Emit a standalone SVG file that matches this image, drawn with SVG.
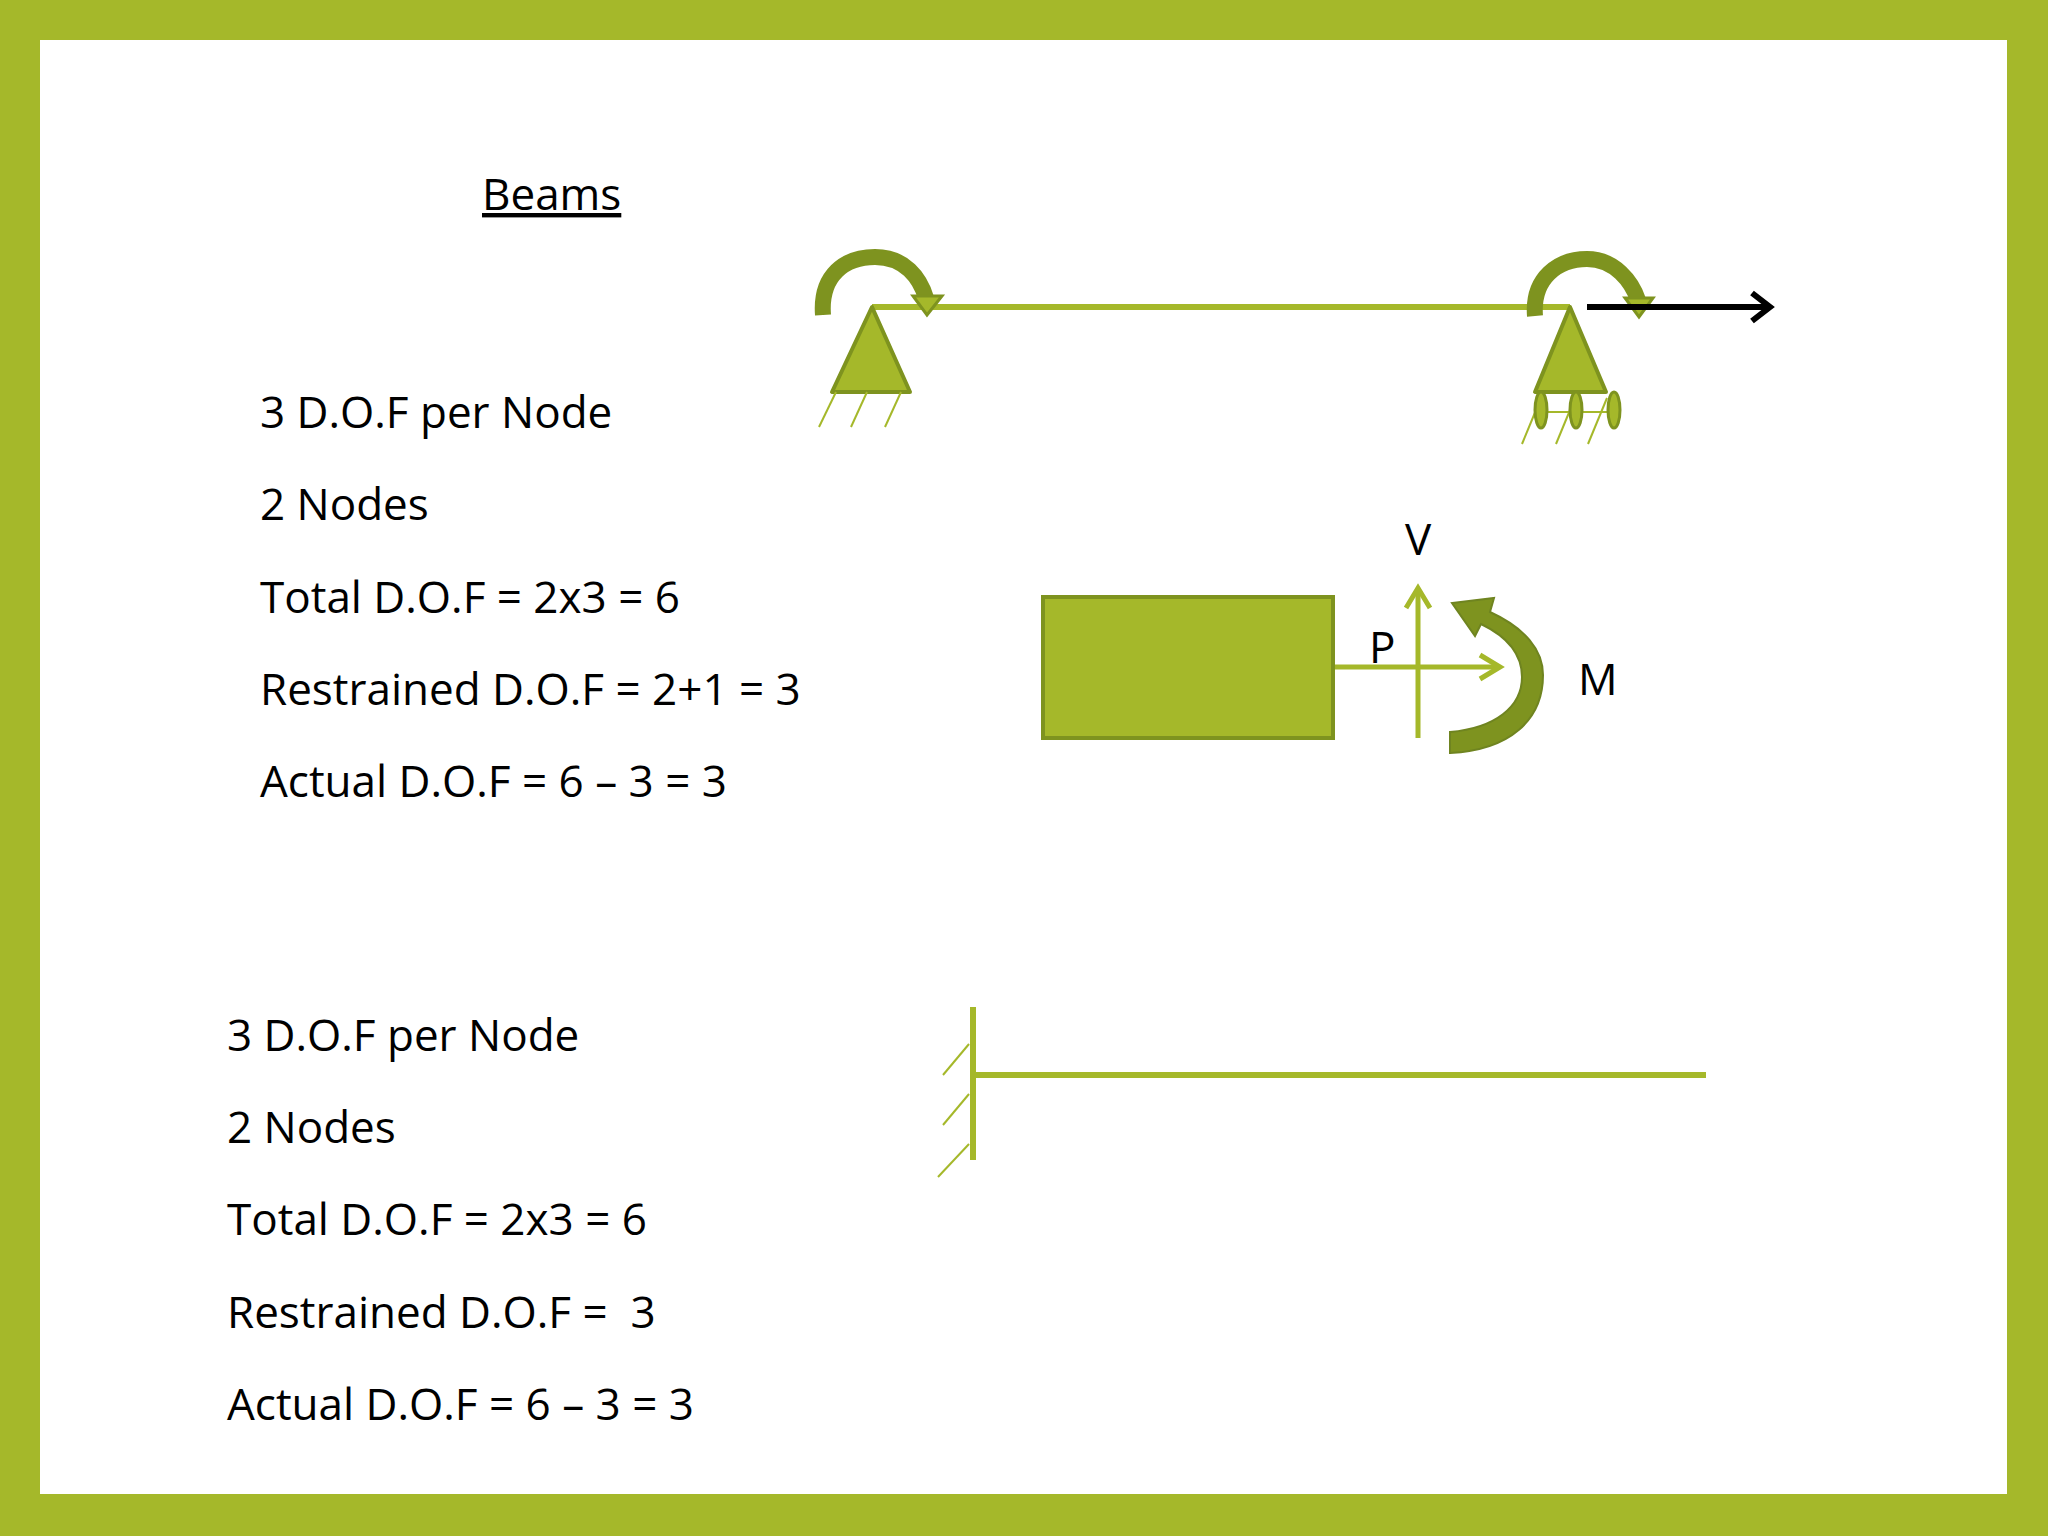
<svg xmlns="http://www.w3.org/2000/svg" width="2048" height="1536" viewBox="0 0 2048 1536">
<style>
text{font-family:"Open Sans","Liberation Sans",sans-serif;font-size:44px;fill:#000;white-space:pre}
.g{stroke:#a5b82a;fill:none}
.tri{fill:#a5b82a;stroke:#7e931f;stroke-width:4;stroke-linejoin:round}
.h{stroke:#a5b82a;stroke-width:2}
.mom{fill:none;stroke:#7e931f;stroke-width:16}
.head{fill:#a5b82a;stroke:#7e931f;stroke-width:3}
</style>
<rect x="0" y="0" width="2048" height="1536" fill="#a5b82a"/>
<rect x="40" y="40" width="1967" height="1454" fill="#fff"/>
<text x="482" y="210" text-decoration="underline">Beams</text>
<g id="text1">
<text x="260" y="428">3 D.O.F per Node</text>
<text x="260" y="520">2 Nodes</text>
<text x="260" y="613">Total D.O.F = 2x3 = 6</text>
<text x="260" y="705">Restrained D.O.F = 2+1 = 3</text>
<text x="260" y="797">Actual D.O.F = 6 – 3 = 3</text>
</g>
<g id="text2">
<text x="227" y="1051">3 D.O.F per Node</text>
<text x="227" y="1143">2 Nodes</text>
<text x="227" y="1235">Total D.O.F = 2x3 = 6</text>
<text x="227" y="1328" xml:space="preserve">Restrained D.O.F =  3</text>
<text x="227" y="1420">Actual D.O.F = 6 – 3 = 3</text>
</g>
<g id="beam1">
<line class="g" x1="872" y1="307" x2="1570" y2="307" stroke-width="6"/>
</g>
<g id="support-left">
<polygon class="tri" points="872,307 832,392 910,392"/>
<line class="h" x1="836" y1="392" x2="819" y2="427"/>
<line class="h" x1="867" y1="392" x2="851" y2="427"/>
<line class="h" x1="901" y1="392" x2="885" y2="427"/>
</g>
<g id="support-right">
<line class="h" x1="1535" y1="412" x2="1614" y2="412"/>
<line class="h" x1="1541" y1="398" x2="1522" y2="444"/>
<line class="h" x1="1575" y1="398" x2="1556" y2="444"/>
<line class="h" x1="1607" y1="398" x2="1588" y2="444"/>
<polygon class="tri" points="1570,307 1535,392 1606,392"/>
<ellipse class="head" cx="1541" cy="410" rx="6" ry="18"/>
<ellipse class="head" cx="1576" cy="410" rx="6" ry="18"/>
<ellipse class="head" cx="1614" cy="410" rx="6" ry="18"/>
</g>
<g id="moment-left">
<path class="mom" d="M823,315 C820,275 845,257 875,257 C905,257 920,278 926,298"/>
<polygon class="head" points="913,296 942,296 927,315"/>
</g>
<g id="moment-right">
<path class="mom" d="M1535,316 C1532,278 1558,259 1587,259 C1615,259 1632,282 1638,300"/>
<polygon class="head" points="1625,298 1653,298 1639,317"/>
</g>
<g id="connectors">
<line x1="1587" y1="307" x2="1766" y2="307" stroke="#000" stroke-width="6"/>
<polyline points="1752,293 1770,307 1752,321" fill="none" stroke="#000" stroke-width="6"/>
<line class="g" x1="1333" y1="667" x2="1498" y2="667" stroke-width="5"/>
<polyline class="g" points="1480,655 1500,667 1480,679" stroke-width="5"/>
<line class="g" x1="1418" y1="738" x2="1418" y2="588" stroke-width="5"/>
<polyline class="g" points="1406,608 1418,588 1430,608" stroke-width="5"/>
</g>
<g id="element">
<rect x="1043" y="597" width="290" height="141" fill="#a5b82a" stroke="#7e931f" stroke-width="4"/>
</g>
<g id="moment-M">
<path d="M1450,753 C1510,750 1543,720 1543,675 C1543,650 1525,628 1490,612 L1494,598 L1452,603 L1475,636 L1481,624 C1508,637 1522,655 1522,677 C1522,707 1495,728 1450,732 Z" fill="#7e931f" stroke="#6f8420" stroke-width="2"/>
</g>
<text x="1405" y="555">V</text>
<text x="1369" y="663">P</text>
<text x="1578" y="695">M</text>
<g id="cantilever">
<line class="g" x1="973" y1="1007" x2="973" y2="1160" stroke-width="6"/>
<line class="g" x1="973" y1="1075" x2="1706" y2="1075" stroke-width="6"/>
<line class="h" x1="969" y1="1044" x2="943" y2="1075"/>
<line class="h" x1="969" y1="1094" x2="943" y2="1125"/>
<line class="h" x1="969" y1="1144" x2="938" y2="1177"/>
</g>
</svg>
